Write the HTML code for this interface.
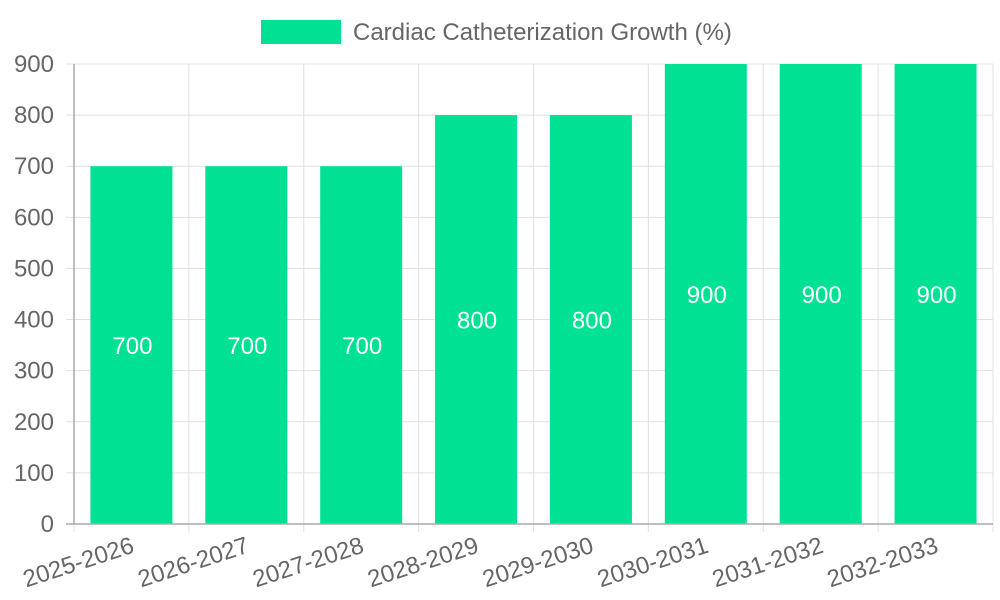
<!DOCTYPE html>
<html><head><meta charset="utf-8"><style>
html,body{margin:0;padding:0;background:#fff;}
svg{display:block;font-family:"Liberation Sans",sans-serif;}
</style></head><body>
<svg id="chart" width="1000" height="600"></svg>
<script>
const categories=["2025-2026","2026-2027","2027-2028","2028-2029","2029-2030","2030-2031","2031-2032","2032-2033"];
const values=[700,700,700,800,800,900,900,900];
const yTicks=[0,100,200,300,400,500,600,700,800,900];
const seriesName="Cardiac Catheterization Growth (%)";
const svg=document.getElementById('chart');
const NS="http://www.w3.org/2000/svg";
const L=74,R=993,T=64,B=524,yMax=900;
const bw=(R-L)/categories.length;
const y=v=>B-(v/yMax)*(B-T);
const x=i=>L+i*bw;
function mk(tag,attrs,parent){const e=document.createElementNS(NS,tag);for(const k in attrs)e.setAttribute(k,attrs[k]);(parent||svg).appendChild(e);return e;}
const lg=mk('g',{});


mk('rect',{x:261,y:20,width:80,height:24,fill:'#00e194'},lg);
const lt=mk('text',{x:353,y:40,'font-size':24,fill:'#666'},lg);lt.textContent=seriesName;
yTicks.forEach(t=>{
  const g=mk('line',{x1:66,x2:R,y1:y(t),y2:y(t),stroke:'#e0e0e0','stroke-width':1});
  
  
  const tx=mk('text',{x:54,y:y(t)+8,'font-size':24,fill:'#666','text-anchor':'end'});
  tx.textContent=t;
  
  
});
for(let i=0;i<=categories.length;i++){
  const g=mk('line',{x1:x(i),x2:x(i),y1:T,y2:B+8,stroke:'#e0e0e0','stroke-width':1});
  
  
}
values.forEach((v,i)=>{
  const cx=x(i)+bw/2,w=82;
  const r=mk('rect',{x:cx-w/2,y:y(v),width:w,height:B-y(v),fill:'#00e194'});
  
  
  const t=mk('text',{x:cx+1,y:(y(v)+B)/2+9,'font-size':24,fill:'#fff','text-anchor':'middle'});
  t.textContent=v;
  
  
  const lx=cx+4,ly=B+28;
  const c=mk('text',{x:lx,y:ly,'font-size':24,fill:'#666','text-anchor':'end',transform:`rotate(-18 ${lx} ${ly})`});
  c.textContent=categories[i];
  
  
});
const ax=mk('line',{x1:L,x2:L,y1:T,y2:B,stroke:'#aaa','stroke-width':1.5});


const bx=mk('line',{x1:66,x2:R,y1:B,y2:B,stroke:'#aaa','stroke-width':1.5});


</script>
</body></html>
